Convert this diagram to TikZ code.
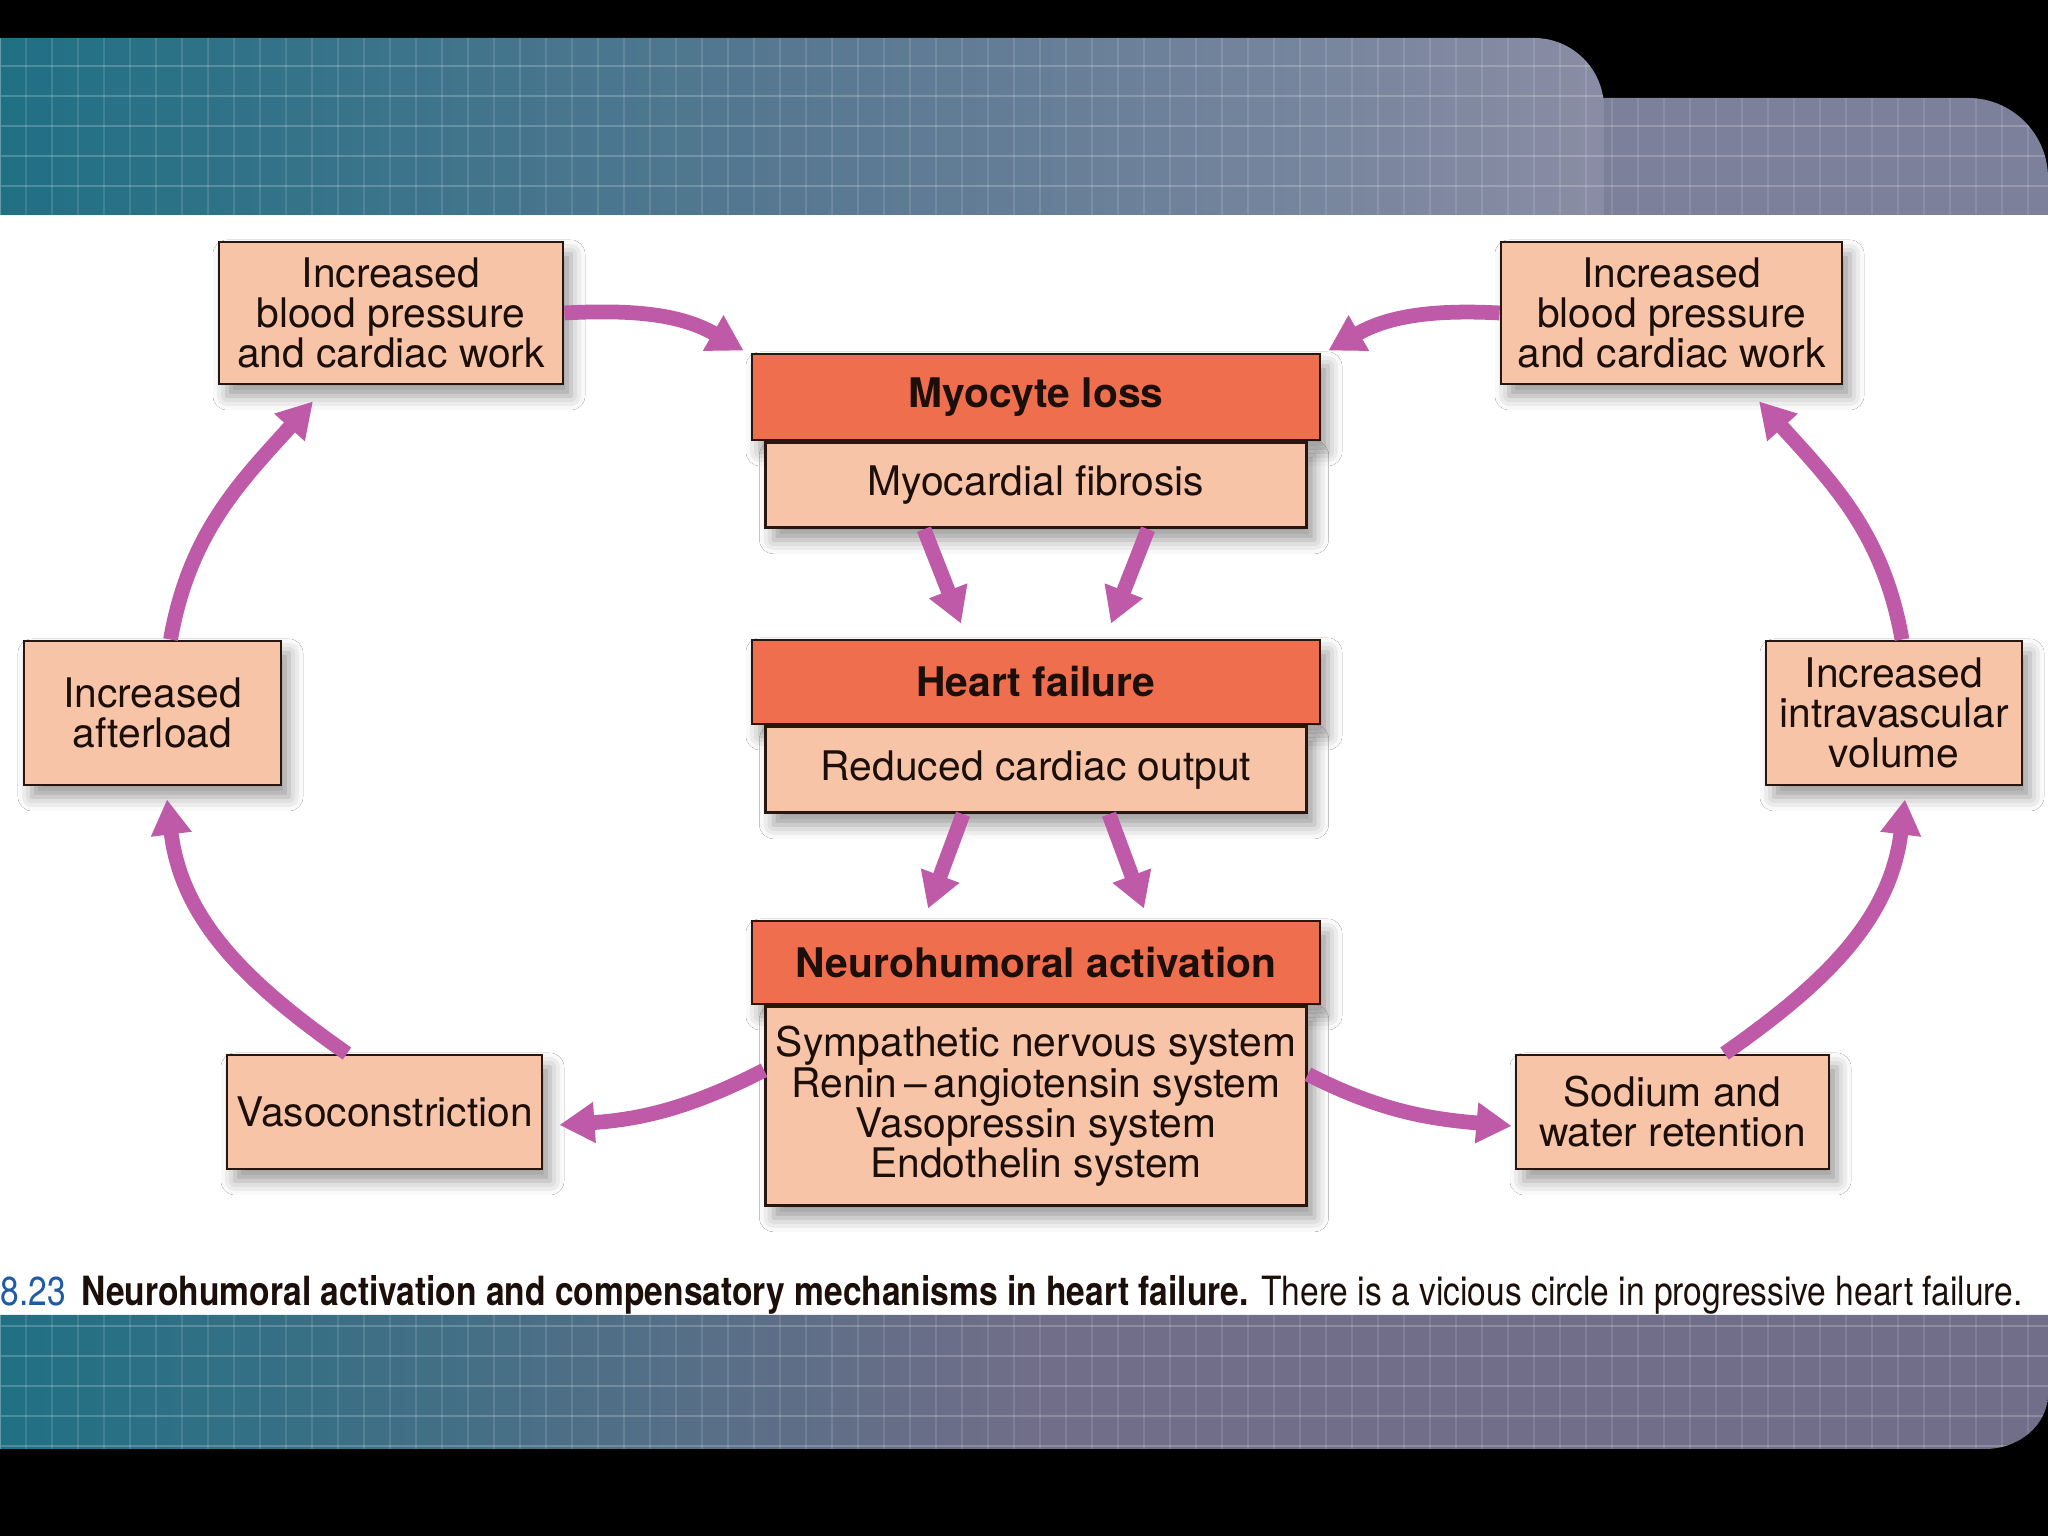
\documentclass[tikz,border=0pt]{standalone}
\usepackage{fontspec}
\setmainfont{TeX Gyre Heros}
\usetikzlibrary{arrows.meta,shadows.blur}
\definecolor{hdr}{RGB}{238,110,78}
\definecolor{peach}{RGB}{247,196,168}
\definecolor{edge}{RGB}{40,22,16}
\definecolor{ink}{RGB}{28,15,10}
\definecolor{flowc}{RGB}{191,90,168}
\definecolor{bannerL}{RGB}{32,112,132}
\definecolor{bannerM}{RGB}{88,120,146}
\definecolor{bannerR}{RGB}{124,128,154}
\definecolor{bannerB}{RGB}{112,110,136}
\definecolor{capblue}{RGB}{30,90,165}

\begin{document}
\begin{tikzpicture}[box/.style={draw=edge, line width=0.8pt, fill=peach, text=ink, align=center, inner sep=0pt, font=\fontsize{11.6}{11.4}\selectfont, blur shadow={shadow xshift=0.08cm, shadow yshift=-0.12cm, shadow blur radius=0.14cm, shadow opacity=40}}, head/.style={box, fill=hdr, font=\fontsize{11.6}{11.4}\selectfont\bfseries}, flow/.style={draw=flowc, line width=4.2pt, -{Triangle[length=10pt, width=11pt]}}, bannergrid/.style={path picture={\draw[white, opacity=.12, line width=.5pt, xstep=.26, ystep=100] (path picture bounding box.south west) grid (path picture bounding box.north east); \draw[white, opacity=.2, line width=.6pt, xstep=100, ystep=.3] (path picture bounding box.south west) grid (path picture bounding box.north east);}}]
			\useasboundingbox (0,0) rectangle (20.48,15.36);
			\fill[black] (0,0) rectangle (20.48,15.36);
			\fill[white] (0,2.21) rectangle (20.48,13.21);
			\fill[bannerR, bannergrid] (15.6,13.21) -- (15.6,14.38) -- (19.68,14.38) arc[start angle=90, end angle=0, radius=0.8] -- (20.48,13.21) -- cycle;
			\shade[left color=bannerL, right color=bannerR!90!white, middle color=bannerM, bannergrid] (0,13.21) -- (0,14.98) -- (15.34,14.98) arc[start angle=90, end angle=0, radius=0.7] -- (16.04,13.21) -- cycle;
			\shade[left color=bannerL, right color=bannerB, middle color=bannerB, bannergrid] (0,0.87) -- (0,2.21) -- (20.48,2.21) -- (20.48,1.42) arc[start angle=0, end angle=-90, x radius=0.63, y radius=0.55] -- cycle;
			\node[anchor=base west, inner sep=0pt, text=ink] (cap) at (0,2.30) {\resizebox{20.22cm}{0.30cm}{\textcolor{capblue}{8.23}\hspace{0.45em}\textbf{Neurohumoral activation and compensatory mechanisms in heart failure.} There is a vicious circle in progressive heart failure.}};
			\node[box, minimum width=3.44cm, minimum height=1.42cm] (tl) at (3.91,12.23) {Increased\\blood pressure\\and cardiac work};
			\node[box, minimum width=3.41cm, minimum height=1.42cm] (tr) at (16.715,12.23) {Increased\\blood pressure\\and cardiac work};
			\node[head, minimum width=5.68cm, minimum height=0.86cm] (myo) at (10.36,11.39) {Myocyte loss};
			\node[box, minimum width=5.41cm, minimum height=0.85cm, anchor=north] (fib) at (myo.south) {Myocardial fibrosis};
			\node[head, minimum width=5.68cm, minimum height=0.84cm] (hf) at (10.36,8.54) {Heart failure};
			\node[box, minimum width=5.41cm, minimum height=0.86cm, anchor=north] (rco) at (hf.south) {Reduced cardiac output};
			\node[head, minimum width=5.68cm, minimum height=0.83cm] (neu) at (10.36,5.735) {Neurohumoral activation};
			\node[box, minimum width=5.41cm, minimum height=1.99cm, anchor=north] (sys) at (neu.south) {Sympathetic nervous system\\Renin\,--\,angiotensin system\\Vasopressin system\\Endothelin system};
			\node[box, minimum width=2.57cm, minimum height=1.44cm] (aft) at (1.525,8.23) {Increased\\afterload};
			\node[box, minimum width=2.56cm, minimum height=1.44cm] (vol) at (18.94,8.23) {Increased\\intravascular\\volume};
			\node[box, minimum width=3.15cm, minimum height=1.14cm] (vas) at (3.845,4.24) {Vasoconstriction};
			\node[box, minimum width=3.13cm, minimum height=1.14cm] (sod) at (16.725,4.24) {Sodium and\\water retention};
			\draw[flow] (tl.east) to[out=3, in=150] ([xshift=-0.07cm, yshift=0.02cm]myo.north west);
			\draw[flow] (tr.west) to[out=177, in=30] ([xshift=0.07cm, yshift=0.02cm]myo.north east);
			\draw[flow] ([xshift=-1.12cm]fib.south) -- ([xshift=-0.75cm, yshift=0.15cm]hf.north);
			\draw[flow] ([xshift=1.12cm]fib.south) -- ([xshift=0.75cm, yshift=0.15cm]hf.north);
			\draw[flow] ([xshift=-0.73cm]rco.south) -- ([xshift=-1.08cm, yshift=0.11cm]neu.north);
			\draw[flow] ([xshift=0.73cm]rco.south) -- ([xshift=1.08cm, yshift=0.11cm]neu.north);
			\draw[flow] ([yshift=0.36cm]sys.west) to[out=207, in=4] ([xshift=0.16cm, yshift=-0.13cm]vas.east);
			\draw[flow] ([yshift=0.32cm]sys.east) to[out=-27, in=175] ([xshift=-0.03cm, yshift=-0.14cm]sod.west);
			\draw[flow] ([xshift=-0.375cm]vas.north) to[out=145, in=-83] ([xshift=0.145cm, yshift=-0.13cm]aft.south);
			\draw[flow] ([xshift=0.18cm]aft.north) to[out=80, in=228] ([xshift=-0.78cm, yshift=-0.16cm]tl.south);
			\draw[flow] ([xshift=0.52cm]sod.north) to[out=35, in=-97] ([xshift=0.11cm, yshift=-0.13cm]vol.south);
			\draw[flow] ([xshift=0.08cm]vol.north) to[out=100, in=-48] ([xshift=0.875cm, yshift=-0.16cm]tr.south);
			\end{tikzpicture}
\end{document}
